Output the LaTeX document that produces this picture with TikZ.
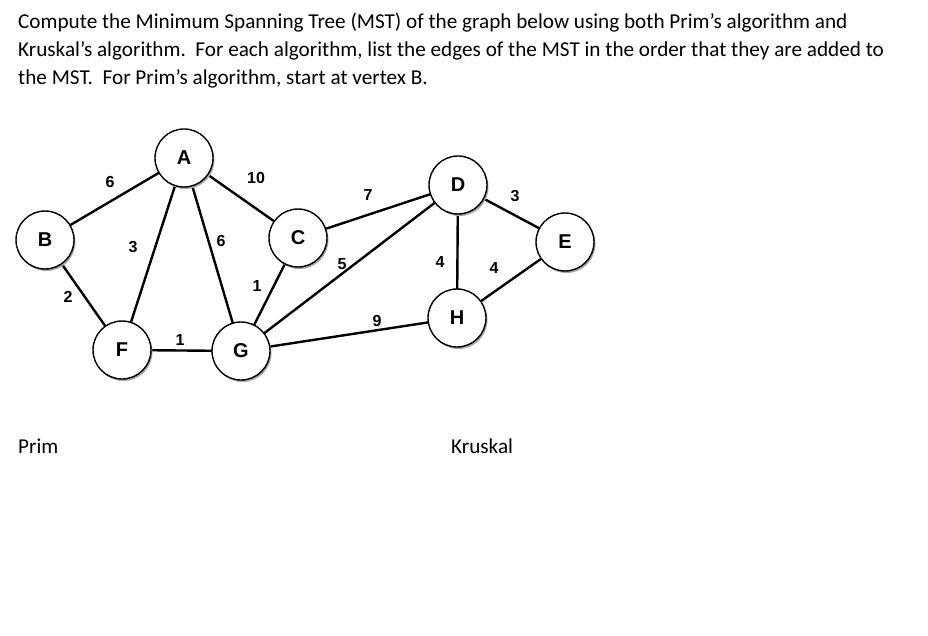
\documentclass[tikz,border=0pt]{standalone}
\usepackage{fontspec}
\setmainfont{Carlito}
\newfontfamily\arialf{Liberation Sans}
\begin{document}
\begin{tikzpicture}[x=1pt,y=-1pt,
  vert/.style={circle,draw,line width=1.4pt,fill=white,minimum size=58pt,inner sep=0pt,font=\arialf\bfseries\fontsize{20}{20}\selectfont,
    preaction={fill=black!35,transform canvas={shift={(1.5pt,-2pt)}}}},
  edge/.style={line width=2.4pt},
  wt/.style={font=\arialf\bfseries\fontsize{16}{16}\selectfont},
  txt/.style={anchor=north west,inner sep=0pt,font=\fontsize{21.2}{28}\selectfont,align=left}]
\useasboundingbox (0,0) rectangle (928,636);
\node[txt] (q) at (18,13) {Compute the Minimum Spanning Tree (MST) of the graph below using both Prim’s algorithm and\\Kruskal’s algorithm.\ \ For each algorithm, list the edges of the MST in the order that they are added to\\the MST.\ \ For Prim’s algorithm, start at vertex B.};
\coordinate (pA) at (184,158);
\coordinate (pB) at (45,240);
\coordinate (pC) at (298,238);
\coordinate (pD) at (458,185);
\coordinate (pE) at (565,242);
\coordinate (pF) at (122,350);
\coordinate (pG) at (241,351);
\coordinate (pH) at (457,318);
\draw[edge] (pA)--(pB) (pA)--(pF) (pA)--(pG) (pA)--(pC) (pB)--(pF) (pF)--(pG) (pC)--(pG)
  (pC)--(pD) (pG)--(pD) (pG)--(pH) (pD)--(pH) (pD)--(pE) (pH)--(pE);
\foreach \n in {A,B,C,D,E,F,G,H}{\node[vert] (\n) at (p\n) {\n};}
\node[wt] (w1) at (110,182) {6};
\node[wt] (w2) at (133,247) {3};
\node[wt] (w3) at (221,241) {6};
\node[wt] (w4) at (256,178) {10};
\node[wt] (w5) at (257,286) {1};
\node[wt] (w6) at (368,195) {7};
\node[wt] (w7) at (342,264) {5};
\node[wt] (w8) at (377,321) {9};
\node[wt] (w9) at (515,196) {3};
\node[wt] (w10) at (440,262) {4};
\node[wt] (w11) at (494,268) {4};
\node[wt] (w12) at (68,297) {2};
\node[wt] (w13) at (180,340) {1};
\node[txt] (prim) at (18,439) {Prim};
\node[txt] (kr) at (451,439) {Kruskal};
\end{tikzpicture}
\end{document}
